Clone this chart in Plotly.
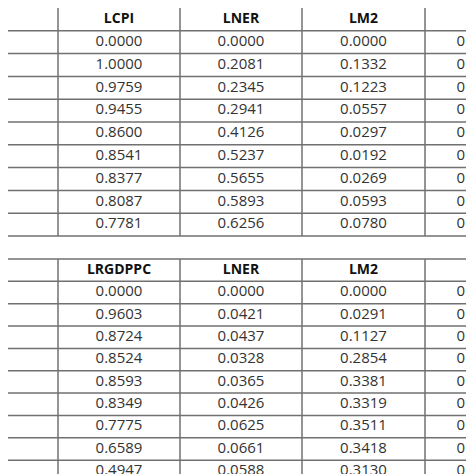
import plotly.graph_objects as go

# table 1
t1_header = ["Step", "LCPI", "LNER", "LM2", "LCR"]
t1_lcpi = ["0.0000", "1.0000", "0.9759", "0.9455", "0.8600", "0.8541", "0.8377", "0.8087", "0.7781"]
t1_lner = ["0.0000", "0.2081", "0.2345", "0.2941", "0.4126", "0.5237", "0.5655", "0.5893", "0.6256"]
t1_lm2 = ["0.0000", "0.1332", "0.1223", "0.0557", "0.0297", "0.0192", "0.0269", "0.0593", "0.0780"]
t1_lcr = ["0.0000", "0.1500", "0.1400", "0.0900", "0.0700", "0.0600", "0.0500", "0.0400", "0.0300"]

# table 2
t2_header = ["Step", "LRGDPPC", "LNER", "LM2", "LCR"]
t2_lrgdppc = ["0.0000", "0.9603", "0.8724", "0.8524", "0.8593", "0.8349", "0.7775", "0.6589", "0.4947"]
t2_lner = ["0.0000", "0.0421", "0.0437", "0.0328", "0.0365", "0.0426", "0.0625", "0.0661", "0.0588"]
t2_lm2 = ["0.0000", "0.0291", "0.1127", "0.2854", "0.3381", "0.3319", "0.3511", "0.3418", "0.3130"]
t2_lcr = ["0.0000", "0.0100", "0.0300", "0.0600", "0.1200", "0.1600", "0.2100", "0.2500", "0.2800"]

col_edges = [-72, 50, 172, 294, 417, 539]
col_centers = [(a + b) / 2 for a, b in zip(col_edges[:-1], col_edges[1:])]
col_centers[0] = -12
col_centers[-1] = 472
tables = [
    (0, 22.8, t1_header, [t1_lcpi, t1_lner, t1_lm2, t1_lcr]),
    (251, 22.35, t2_header, [t2_lrgdppc, t2_lner, t2_lm2, t2_lcr]),
]

fig = go.Figure()
line = dict(color="#707070", width=1.5)
font = "'Open Sans', Lato, sans-serif"

for top, row_h, header, cols in tables:
    n_rows = len(cols[0]) + 1
    fig.add_trace(go.Scatter(x=col_centers, y=[top + row_h / 2] * len(header), mode="text",
                             text=["<b>%s</b>" % h for h in header],
                             textfont=dict(size=14, color="#111", family=font),
                             cliponaxis=False, showlegend=False, hoverinfo="skip"))
    for j, vals in enumerate(cols):
        fig.add_trace(go.Scatter(
            x=[col_centers[j + 1]] * len(vals),
            y=[top + row_h * (i + 1.5) for i in range(len(vals))],
            mode="text", text=vals,
            textfont=dict(size=15, color="#333", family=font),
            cliponaxis=False, showlegend=False, hoverinfo="skip"))
    for i in range(n_rows + 1):
        y = top + row_h * i
        if y <= 0:
            continue
        fig.add_shape(type="line", x0=0, x1=474, y0=y, y1=y, line=line, layer="above")
    for x in col_edges[1:-1]:
        fig.add_shape(type="line", x0=x, x1=x, y0=top, y1=top + row_h * n_rows, line=line, layer="above")

fig.update_layout(
    width=474, height=474, margin=dict(l=0, r=0, t=0, b=0),
    paper_bgcolor="white", plot_bgcolor="white",
    xaxis=dict(range=[0, 474], visible=False, fixedrange=True),
    yaxis=dict(range=[474, 0], visible=False, fixedrange=True),
)
fig.write_html("out.html")
